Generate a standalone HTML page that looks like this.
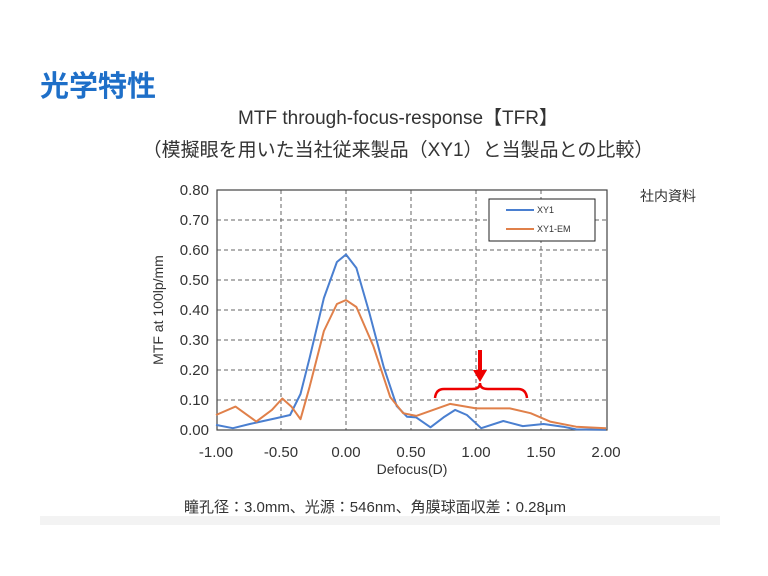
<!DOCTYPE html>
<html><head><meta charset="utf-8"><style>
body{margin:0;background:#fff;width:768px;height:576px;overflow:hidden;font-family:"Liberation Sans","Noto Sans CJK JP",sans-serif}
</style></head><body>
<svg width="768" height="576" style="position:absolute;left:0;top:0;font-family:'Liberation Sans','Noto Sans CJK JP',sans-serif">
<text x="40" y="96" font-size="29" font-weight="bold" fill="#1e6fc8">光学特性</text>
<text x="398" y="124" font-size="19" fill="#333" text-anchor="middle">MTF through-focus-response【TFR】</text>
<text x="398" y="156" font-size="19" fill="#333" text-anchor="middle">（模擬眼を用いた当社従来製品（XY1）と当製品との比較）</text>
<text x="668" y="201" font-size="14" fill="#333" text-anchor="middle">社内資料</text>
<g id="grid"></g>
<rect x="217" y="190" width="390" height="240" fill="none" stroke="#444" stroke-width="1.2"/>
<g id="ticks" font-size="15" fill="#333"></g>
<text x="412" y="474" font-size="14" fill="#333" text-anchor="middle">Defocus(D)</text>
<text transform="translate(163,310) rotate(-90)" font-size="14" fill="#333" text-anchor="middle">MTF at 100lp/mm</text>
<g id="series"></g>
<g>
<rect x="489" y="199" width="106" height="42" fill="#fff" stroke="#222" stroke-width="1"/>
<line x1="506" y1="210" x2="534" y2="210" stroke="#4a7fd0" stroke-width="2"/>
<text x="537" y="213" font-size="9" fill="#333">XY1</text>
<line x1="506" y1="229" x2="534" y2="229" stroke="#e0804a" stroke-width="2"/>
<text x="537" y="232" font-size="9" fill="#333">XY1-EM</text>
</g>
<path d="M435,398 Q436,389 444,389 L472,389 Q480,389 480,383 Q480,389 488,389 L518,389 Q526,389 527,398" fill="none" stroke="#e00" stroke-width="2.5"/>
<line x1="480" y1="350" x2="480" y2="372" stroke="#e00" stroke-width="4"/>
<polygon points="473,370 487,370 480,382" fill="#e00"/>
<text x="375" y="512" font-size="15" fill="#333" text-anchor="middle">瞳孔径：3.0mm、光源：546nm、角膜球面収差：0.28μm</text>
<rect x="40" y="516" width="680" height="9" fill="#f3f3f3"/>
</svg>
<script>
const xTicks=[-1,-0.5,0,0.5,1,1.5,2];
const yTicks=[0,0.1,0.2,0.3,0.4,0.5,0.6,0.7,0.8];
const xy1X=[-1,-0.87,-0.74,-0.53,-0.43,-0.35,-0.28,-0.17,-0.07,0,0.08,0.18,0.29,0.39,0.47,0.54,0.65,0.75,0.84,0.93,1.04,1.21,1.36,1.52,1.67,1.77,2];
const xy1Y=[0.017,0.006,0.02,0.04,0.05,0.12,0.24,0.44,0.56,0.585,0.54,0.39,0.21,0.08,0.044,0.042,0.009,0.042,0.067,0.05,0.006,0.03,0.013,0.02,0.011,0.002,0.001];
const emX=[-1,-0.85,-0.69,-0.57,-0.49,-0.42,-0.35,-0.28,-0.17,-0.07,0,0.08,0.21,0.34,0.44,0.54,0.67,0.8,1.0,1.26,1.42,1.57,1.77,2];
const emY=[0.05,0.078,0.028,0.067,0.105,0.078,0.036,0.144,0.33,0.42,0.433,0.41,0.28,0.11,0.056,0.047,0.067,0.087,0.072,0.072,0.056,0.028,0.011,0.006];
const NS="http://www.w3.org/2000/svg";
const sx=v=>346+v*130, sy=v=>430-v*300;
const grid=document.getElementById('grid'),ticks=document.getElementById('ticks'),ser=document.getElementById('series');
xTicks.forEach(t=>{
  if(t>-1&&t<2){const l=document.createElementNS(NS,'line');
  
  
  l.setAttribute('x1',sx(t));l.setAttribute('x2',sx(t));l.setAttribute('y1',190);l.setAttribute('y2',430);
  l.setAttribute('stroke','#666');l.setAttribute('stroke-dasharray','4,3');grid.appendChild(l);}
  const tx=document.createElementNS(NS,'text');
  
  
  tx.setAttribute('x',sx(t));tx.setAttribute('y',457);tx.setAttribute('text-anchor','middle');
  tx.textContent=t.toFixed(2);ticks.appendChild(tx);
});
yTicks.forEach(t=>{
  if(t>0&&t<0.8){const l=document.createElementNS(NS,'line');
  
  
  l.setAttribute('y1',sy(t));l.setAttribute('y2',sy(t));l.setAttribute('x1',217);l.setAttribute('x2',607);
  l.setAttribute('stroke','#666');l.setAttribute('stroke-dasharray','4,3');grid.appendChild(l);}
  const tx=document.createElementNS(NS,'text');
  
  
  tx.setAttribute('x',209);tx.setAttribute('y',sy(t)+5);tx.setAttribute('text-anchor','end');
  tx.textContent=t.toFixed(2);ticks.appendChild(tx);
});
function line(xs,ys,col,name){
  const p=document.createElementNS(NS,'polyline');
  
  
  p.setAttribute('points',xs.map((x,i)=>sx(x)+','+sy(ys[i])).join(' '));
  p.setAttribute('fill','none');p.setAttribute('stroke',col);p.setAttribute('stroke-width','2');p.setAttribute('stroke-linejoin','round');
  ser.appendChild(p);
}
line(xy1X,xy1Y,'#4a7fd0','series-xy1');
line(emX,emY,'#e0804a','series-xy1-em');
</script>
</body></html>
